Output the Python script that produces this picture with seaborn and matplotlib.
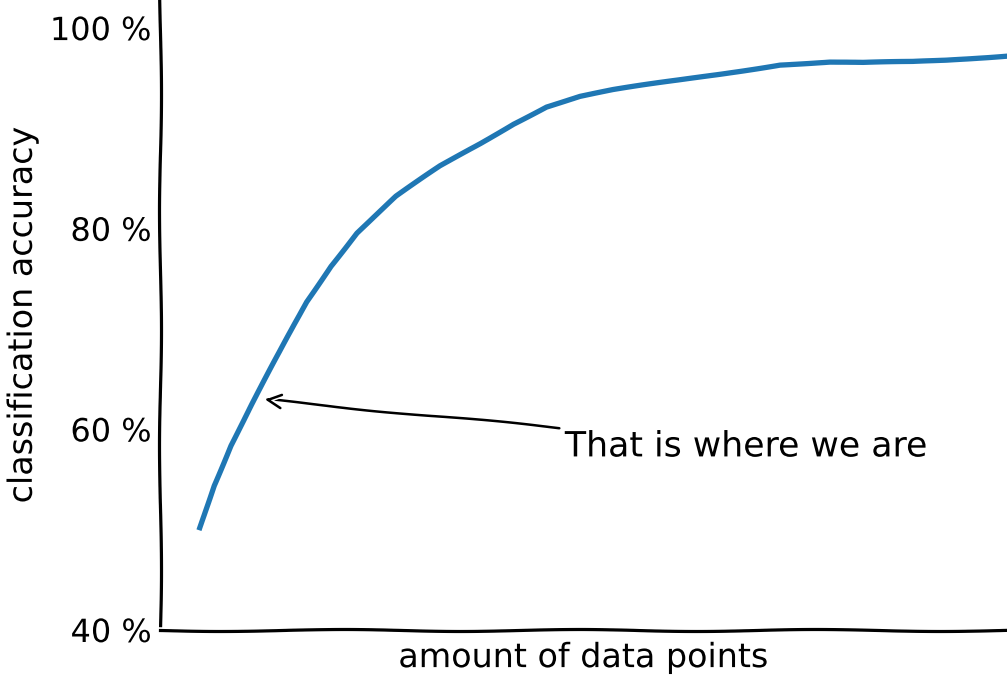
import matplotlib
matplotlib.use('Agg')
import matplotlib.pyplot as plt
import numpy as np
import seaborn as sns

# learning curve (fraction of data, accuracy in %)
data_frac = [0.047, 0.063, 0.083, 0.110, 0.142, 0.173, 0.201, 0.232, 0.279, 0.331,
             0.378, 0.417, 0.456, 0.496, 0.535, 0.614, 0.673, 0.732, 0.791, 0.830,
             0.889, 0.929, 1.0]
accuracy = [50.2, 54.4, 58.4, 62.7, 67.7, 72.7, 76.3, 79.6, 83.2, 86.2,
            88.5, 90.5, 92.2, 93.2, 93.8, 94.8, 95.6, 96.4, 96.6, 96.5,
            96.6, 96.8, 97.3]

y_ticks = [40, 60, 80, 100]
y_labels = ['40 %', '60 %', '80 %', '100 %']

note_text = 'That is where we are'
note_xy = (0.12, 63.0)
note_text_xy = (0.478, 58.3)

np.random.seed(3)
with plt.xkcd(scale=1, length=250, randomness=1.5):
    plt.rcParams['font.family'] = ['DejaVu Sans']
    fig = plt.figure(figsize=(10.07, 6.83), dpi=100)
    ax = fig.add_axes([160 / 1007, 53 / 683, 847 / 1007, 630 / 683])

    sns.lineplot(x=data_frac, y=accuracy, ax=ax, color='#1f77b4', linewidth=3.8)

    ax.spines['top'].set_visible(False)
    ax.spines['right'].set_visible(False)
    ax.spines['left'].set_linewidth(2.3)
    ax.spines['bottom'].set_linewidth(2.3)

    ax.set_xlim(0, 1)
    ax.set_ylim(40, 102.8)
    ax.set_xticks([])
    ax.set_yticks(y_ticks)
    ax.set_yticklabels(y_labels, fontsize=23)
    ax.tick_params(axis='y', length=0, pad=6)

    ax.set_xlabel('amount of data points', fontsize=24, labelpad=8)
    ax.set_ylabel('classification accuracy', fontsize=24, labelpad=8)

    ax.annotate(note_text, xy=note_xy, xytext=note_text_xy, fontsize=25,
                ha='left', va='center',
                arrowprops=dict(arrowstyle='->', color='black', linewidth=1.8))

    fig.savefig('out.png', dpi=100)
